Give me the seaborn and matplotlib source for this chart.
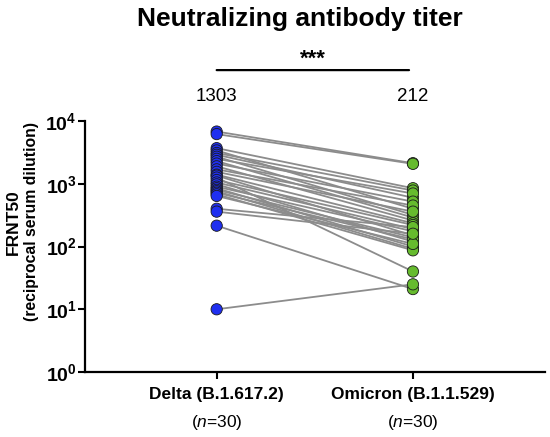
import numpy as np
import pandas as pd
import matplotlib
matplotlib.use('Agg')
import matplotlib.pyplot as plt
import seaborn as sns

# -------------------- Data (paired samples) --------------------
GROUPS = ['Delta (B.1.617.2)', 'Omicron (B.1.1.529)']
N_LABELS = ['30', '30']
MEDIANS = ['1303', '212']
delta = [6800, 6200, 3700, 3400, 3100, 2900, 2700, 2500, 2300, 2100,
         1900, 1700, 1550, 1400, 1350, 1256, 1150, 1050, 980, 900,
         850, 800, 760, 720, 680, 640, 400, 360, 215, 10]
omicron = [2130, 2080, 850, 400, 780, 600, 320, 700, 290, 520,
           260, 450, 360, 235, 150, 40, 220, 190, 120, 175,
           100, 140, 92, 130, 87, 110, 204, 160, 21, 25]
COLORS = ['#1f2ff0', '#66bb2e']

n = len(delta)
df = pd.DataFrame({
    'subject': list(range(n)) * 2,
    'pos': [0] * n + [1] * n,
    'group': [GROUPS[0]] * n + [GROUPS[1]] * n,
    'titer': delta + omicron,
})

sns.set_style('ticks')
plt.rcParams['font.family'] = ['Liberation Sans', 'DejaVu Sans']
plt.rcParams.update({
    'mathtext.fontset': 'custom',
    'mathtext.rm': 'Liberation Sans',
    'mathtext.bf': 'Liberation Sans:bold',
    'mathtext.it': 'Liberation Sans:italic',
    'text.color': 'black',
    'axes.edgecolor': 'black',
    'xtick.color': 'black',
    'ytick.color': 'black',
})

fig = plt.figure(figsize=(5.5, 4.37), dpi=100)
ax = fig.add_axes([0.1545, 0.1487, 0.8365, 0.5743])

# -------------------- Plot --------------------
sns.lineplot(data=df, x='pos', y='titer', units='subject', estimator=None,
             color='#8c8c8c', linewidth=1.3, ax=ax, legend=False, zorder=1)
sns.scatterplot(data=df, x='pos', y='titer', hue='group', palette=COLORS,
                s=66, edgecolor='#1a1a1a', linewidth=0.6, ax=ax,
                legend=False, zorder=3)

ax.set_yscale('log')
ax.set_ylim(1, 1e4)
ax.set_xlim(-0.671, 1.673)
ax.set_xticks([0, 1])
ax.set_xticklabels(GROUPS, fontsize=12.5, fontweight='bold')
ax.set_yticks([1, 10, 100, 1000, 10000])
ax.set_yticklabels([r'$\mathbf{10^{%d}}$' % i for i in range(5)], fontsize=14)
ax.minorticks_off()
ax.tick_params(axis='both', width=1.5, length=5, pad=1)
ax.tick_params(axis='x', pad=6)
ax.set_xlabel('')
ax.set_ylabel('')
for side in ['top', 'right']:
    ax.spines[side].set_visible(False)
for side in ['left', 'bottom']:
    ax.spines[side].set_linewidth(1.6)

# n labels under categories
for i, lab in enumerate(N_LABELS):
    ax.annotate(r'($\mathit{n}$=' + lab + ')', xy=(i, 0), xycoords=('data', 'axes fraction'),
                xytext=(0, -36), textcoords='offset points', ha='center', va='center',
                fontsize=12.5)

# y label
fig.text(0.024, 0.492, 'FRNT50', rotation=90, ha='center', va='center',
         fontsize=12.5, fontweight='bold')
fig.text(0.058, 0.492, '(reciprocal serum dilution)', rotation=90, ha='center',
         va='center', fontsize=11.3, fontweight='bold')

# medians and significance bracket
for i, m in enumerate(MEDIANS):
    ax.annotate(m, xy=(i, 1), xycoords=('data', 'axes fraction'), xytext=(0, 18),
                textcoords='offset points', ha='center', va='center', fontsize=13.5)
ax.annotate('', xy=(0, 1.203), xytext=(0.98, 1.203), xycoords=('data', 'axes fraction'),
            textcoords=('data', 'axes fraction'),
            arrowprops=dict(arrowstyle='-', linewidth=1.6, color='black',
                            shrinkA=0, shrinkB=0))
ax.annotate('***', xy=(0.49, 1.203), xycoords=('data', 'axes fraction'), xytext=(0, 7.5),
            textcoords='offset points', ha='center', va='center', fontsize=16,
            fontweight='bold')

fig.suptitle('Neutralizing antibody titer', x=0.546, y=0.985, fontsize=19,
             fontweight='bold', va='top')

fig.savefig('out.png', dpi=100)
